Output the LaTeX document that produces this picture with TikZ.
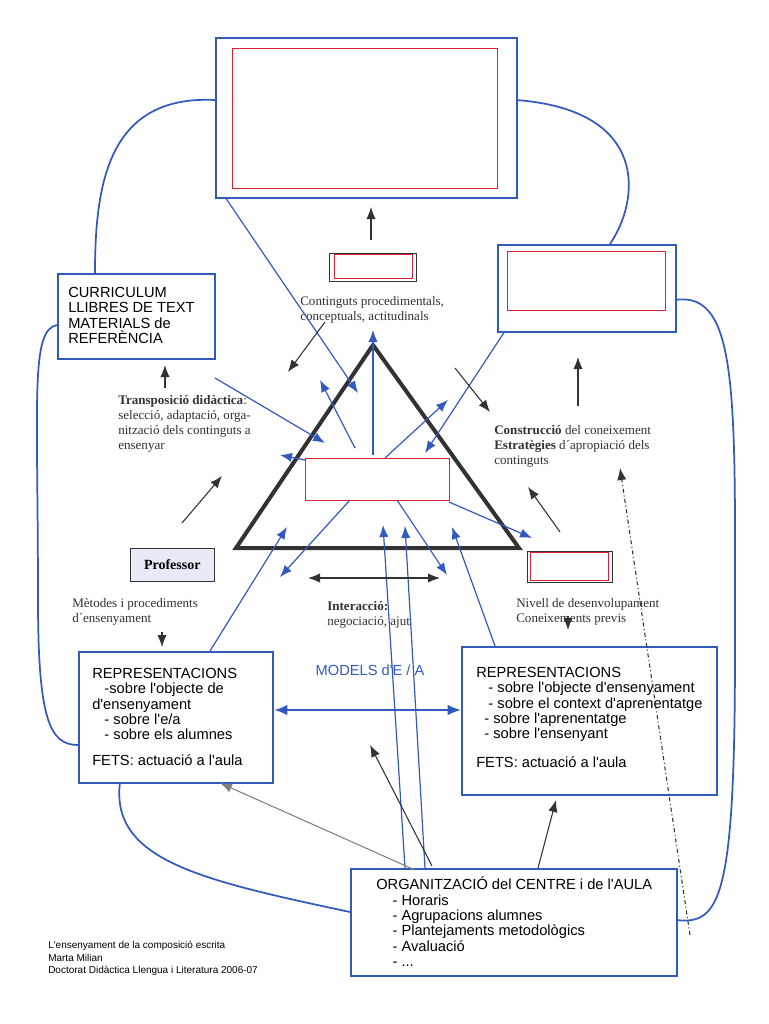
\documentclass[tikz,border=0pt]{standalone}
\usepackage{fontspec}
\setmainfont{Liberation Serif}
\newfontfamily\arialf{Liberation Sans}
\usetikzlibrary{arrows.meta}
\definecolor{bl}{RGB}{50,90,190}
\definecolor{rd}{RGB}{225,30,50}
\definecolor{dk}{RGB}{50,50,50}
\begin{document}
\begin{tikzpicture}[x=0.75pt,y=-0.75pt,
 bbox/.style={draw=bl,line width=1.6pt},
 rbox/.style={draw=rd,line width=0.7pt},
 ba/.style={draw=bl,line width=0.9pt,-{Latex[length=9pt,width=7pt]}},
 ka/.style={draw=dk,line width=0.8pt,-{Latex[length=9pt,width=7pt]}},
 loop/.style={draw=bl,line width=1.3pt},
 st/.style={font=\arialf\fontsize{11}{11.5}\selectfont,align=left,anchor=north west,inner sep=0},
 rt/.style={font=\fontsize{9.8}{11.2}\selectfont,align=left,anchor=north west,inner sep=0,text=dk}]
\useasboundingbox (0,0) rectangle (768,1024);
% boxes
\node[bbox,minimum width=301*0.75pt,minimum height=160*0.75pt,anchor=north west] (top) at (215,37) {};
\node[rbox,minimum width=265*0.75pt,minimum height=140*0.75pt,anchor=north west] (topr) at (232,48) {};
\node[draw=dk,line width=0.8pt,minimum width=87*0.75pt,minimum height=28*0.75pt,anchor=north west] (sm) at (329,253) {};
\node[rbox,minimum width=78*0.75pt,minimum height=24*0.75pt,anchor=north west] (smr) at (334,254) {};
\node[bbox,minimum width=178*0.75pt,minimum height=87*0.75pt,anchor=north west] (rb) at (497,244) {};
\node[rbox,minimum width=158*0.75pt,minimum height=59*0.75pt,anchor=north west] (rbr) at (507,251) {};
\node[bbox,minimum width=157*0.75pt,minimum height=85*0.75pt,anchor=north west] (cur) at (57,273) {};
\node[st] at (68,287) {CURRICULUM\\LLIBRES DE TEXT\\MATERIALS de\\REFERÈNCIA};
\coordinate (A) at (373,345); \coordinate (L) at (236,548); \coordinate (R) at (519,548);
\draw[dk,line width=3pt,line join=miter] (A) -- (R) -- (L) -- cycle;
\node[rbox,minimum width=144*0.75pt,minimum height=42*0.75pt,anchor=north west] (cen) at (305,458) {};
\node[draw=dk,line width=0.8pt,minimum width=85*0.75pt,minimum height=31*0.75pt,anchor=north west] (sr) at (527,551) {};
\node[rbox,minimum width=78*0.75pt,minimum height=28*0.75pt,anchor=north west] (srr) at (530,552) {};
\node[draw=dk,fill=bl!12,minimum width=84*0.75pt,minimum height=33*0.75pt,anchor=north west,inner sep=0] (prof) at (130,548) {};
\node[font=\bfseries\fontsize{10.5}{12}\selectfont] at (prof.center) {Professor};
\node[bbox,minimum width=194*0.75pt,minimum height=131*0.75pt,anchor=north west] (lr) at (78,651) {};
\node[st] at (92,668) {REPRESENTACIONS\\\ \ \ -sobre l'objecte de\\d'ensenyament\\\ \ \ - sobre l'e/a\\\ \ \ - sobre els alumnes\\[8pt]FETS: actuació a l'aula};
\node[bbox,minimum width=255*0.75pt,minimum height=148*0.75pt,anchor=north west] (rr) at (461,646) {};
\node[st] at (476,667) {REPRESENTACIONS\\\ \ \ - sobre l'objecte d'ensenyament\\\ \ \ - sobre el context d'aprenentatge\\\ \ - sobre l'aprenentatge\\\ \ - sobre l'ensenyant\\[10pt]FETS: actuació a l'aula};
\node[bbox,minimum width=326*0.75pt,minimum height=107*0.75pt,anchor=north west] (org) at (350,868) {};
\node[st] at (376,877) {ORGANITZACIÓ del CENTRE i de l'AULA\\\ \ \ \ - Horaris\\\ \ \ \ - Agrupacions alumnes\\\ \ \ \ - Plantejaments metodològics\\\ \ \ \ - Avaluació\\\ \ \ \ - ...};
% texts
\node[rt] at (300,296) {Continguts procedimentals,\\conceptuals, actitudinals};
\node[rt] at (118,395) {\textbf{Transposició didàctica}:\\selecció, adaptació, orga-\\nització dels continguts a\\ensenyar};
\node[rt] at (494,425) {\textbf{Construcció} del coneixement\\\textbf{Estratègies} d´apropiació dels\\continguts};
\node[rt] at (72,598) {Mètodes i procediments\\d´ensenyament};
\node[rt] at (327,601) {\textbf{Interacció:}\\negociació, ajut};
\node[rt] at (516,598) {Nivell de desenvolupament\\Coneixements previs};
\node[font=\arialf\fontsize{11}{12}\selectfont,text=bl] at (370,670) {MODELS d'E / A};
\node[font=\arialf\fontsize{7.5}{9.5}\selectfont,align=left,anchor=north west,inner sep=0] at (48,941) {L'ensenyament de la composició escrita\\Marta Milian\\Doctorat Didàctica Llengua i Literatura 2006-07};
% loops
\draw[loop] (215,100) .. controls (110,95) and (95,180) .. (95,273);
\draw[loop] (516,100) .. controls (650,110) and (640,200) .. (610,244);
\draw[loop] (57,325) .. controls (30,330) and (38,400) .. (38,600) .. controls (38,720) and (50,745) .. (78,745);
\draw[loop] (675,300) .. controls (740,290) and (735,400) .. (735,650) .. controls (735,900) and (720,925) .. (676,920);
\draw[loop] (120,782) .. controls (110,860) and (200,880) .. (350,912);
% blue arrows
\draw[ba] (225,197) -- (358,393);
\draw[ba] (505,331) -- (425,453);
\draw[ba] (373,455) -- (373,330);
\draw[ba] (355,448) -- (320,380);
\draw[ba] (385,458) -- (448,400);
\draw[ba] (215,378) -- (325,443);
\draw[ba] (305,460) -- (280,455);
\draw[ba] (350,500) -- (280,577);
\draw[ba] (397,500) -- (447,575);
\draw[ba] (449,502) -- (532,538);
\draw[ba] (210,651) -- (287,527);
\draw[ba] (405,868) -- (383,525);
\draw[ba] (425,868) -- (405,526);
\draw[ba] (495,646) -- (452,527);
\draw[draw=bl,line width=1.5pt,{Latex[length=10pt,width=8pt]}-{Latex[length=10pt,width=8pt]}] (lr.east |- 0,710) -- (rr.west |- 0,710);
% black arrows
\draw[ka] (371,240) -- (371,207);
\draw[ka] (325,322) -- (288,372);
\draw[ka] (455,368) -- (490,412);
\draw[ka] (182,523) -- (222,476);
\draw[ka] (560,532) -- (528,487);
\draw[ka] (578,406) -- (578,357);
\draw[ka] (165,388) -- (165,365);
\draw[ka,{Latex[length=9pt,width=7pt]}-{Latex[length=9pt,width=7pt]}] (308,578) -- (440,578);
\draw[ka] (162,632) -- (162,647);
\draw[ka] (568,616) -- (568,630);
\draw[ka] (432,866) -- (370,745);
\draw[ka,draw=gray] (415,870) -- (220,783);
\draw[ka] (538,868) -- (556,800);
\draw[ka,dash dot] (690,935) -- (620,468);
\end{tikzpicture}
\end{document}
